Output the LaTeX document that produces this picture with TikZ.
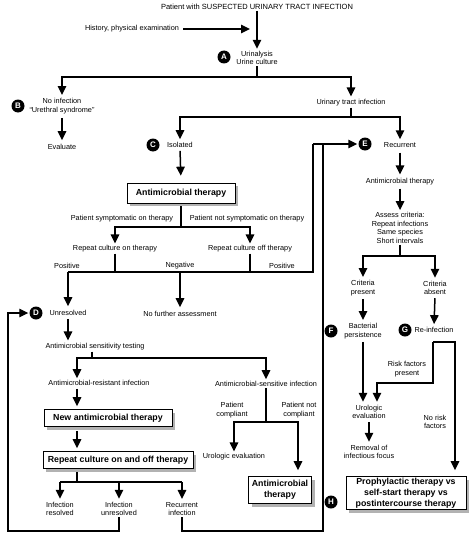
\documentclass[tikz,border=0pt]{standalone}
\usepackage{fontspec}
\setmainfont{Liberation Sans}
\usetikzlibrary{arrows.meta,shadows,calc}
\begin{document}
\begin{tikzpicture}[x=1pt,y=-1pt,
  lbl/.style={font=\fontsize{7.3}{8.7}\selectfont, align=center, inner sep=1pt},
  bx/.style={draw, line width=0.7pt, fill=white, font=\bfseries\fontsize{8.8}{11}\selectfont, align=center, inner sep=1pt,
    drop shadow={shadow xshift=3pt, shadow yshift=-3pt, fill=gray!60, opacity=1}},
  badge/.style={circle, fill=black, text=white, font=\bfseries\fontsize{8}{8}\selectfont, inner sep=0pt, minimum size=13pt},
  arr/.style={-{Triangle[length=9pt,width=8.5pt]}, line width=1.5pt},
  ln/.style={line width=1.2pt},
]
\useasboundingbox (0,0) rectangle (474,535);

% top
\node[lbl, font=\fontsize{7.5}{9}\selectfont] (title) at (257,7) {Patient with SUSPECTED URINARY TRACT INFECTION};
\node[lbl] (hist) at (132,29) {History, physical examination};
\node[lbl] (urin) at (257,58) {Urinalysis\\Urine culture};
\node[badge] (cA) at (224,57) {A};
\coordinate (hx) at (250,29);
\draw[arr, shorten >=1pt] (title.south) -- (urin.north);
\draw[arr, shorten <=3pt] (hist) -- (hx);

\coordinate (j1) at (257,77);
\draw[ln] (urin.south) -- (j1);
\node[lbl] (noinf) at (62,106) {No infection\\``Urethral syndrome''};
\node[badge] (cB) at (18,106) {B};
\node[lbl] (eval) at (62,147) {Evaluate};
\node[lbl] (uti) at (351,103) {Urinary tract infection};
\draw[arr, shorten >=2pt] (j1) -| (noinf.north);
\draw[arr, shorten >=2pt] (j1) -| (uti.north);
\draw[arr, shorten <=3pt, shorten >=3pt] (noinf.south) -- (eval.north);

\coordinate (j2) at (351,117);
\draw[ln] (uti.south) -- (j2);
\node[lbl] (iso) at (180,145) {Isolated};
\node[badge] (cC) at (153,145) {C};
\node[lbl] (rec) at (400,145) {Recurrent};
\node[badge] (cE) at (365,144) {E};
\draw[arr, shorten >=2pt] (j2) -| (iso.north);
\draw[arr, shorten >=2pt] (j2) -| (rec.north);

% left branch C
\node[bx, minimum width=108pt, minimum height=20pt] (abox) at (181,193) {Antimicrobial therapy};
\draw[arr, shorten <=2pt, shorten >=7pt] (iso.south) -- (abox.north);
\coordinate (j3) at (181,227);
\draw[ln, shorten <=3pt] (abox.south) -- (j3);
\node[lbl] (sym) at (122,219) {Patient symptomatic on therapy};
\node[lbl] (nsym) at (247,219) {Patient not symptomatic on therapy};
\node[lbl] (rcon) at (115,249) {Repeat culture on therapy};
\node[lbl] (rcoff) at (250,249) {Repeat culture off therapy};
\draw[arr, shorten >=1pt] (j3) -| (rcon.north);
\draw[arr, shorten >=1pt] (j3) -| (rcoff.north);

\coordinate (rL) at (68,272);
\coordinate (rR) at (313,272);
\coordinate (jE) at (313,144);
\draw[ln] (rcon.south) -- (rcon.south |- rL);
\draw[ln] (rcoff.south) -- (rcoff.south |- rL);
\draw[ln] (rL) -- (rR) -- (jE);
\draw[arr, shorten >=1pt] (jE) -- (cE.west);
\node[lbl] (pos1) at (67,266) {Positive};
\node[lbl] (neg) at (180,266) {Negative};
\node[lbl] (pos2) at (282,266) {Positive};

\node[lbl] (unres) at (68,313) {Unresolved};
\node[badge] (cD) at (36,313) {D};
\node[lbl] (nfa) at (180,314) {No further assessment};
\draw[arr, shorten >=3pt] (rL) -- (unres.north);
\draw[arr, shorten >=3pt] (rL -| nfa) -- (nfa.north);

% D branch
\node[lbl] (sens) at (95,347) {Antimicrobial sensitivity testing};
\draw[arr, shorten <=2pt, shorten >=2pt] (unres.south) -- (unres.south |- sens.north);
\coordinate (j4) at (92,358);
\draw[ln] (sens.south -| j4) -- (j4);
\node[lbl] (resist) at (99,383) {Antimicrobial-resistant infection};
\node[lbl] (sensi) at (266,384) {Antimicrobial-sensitive infection};
\coordinate (c77) at (77,0);
\draw[arr, shorten >=1pt] (j4) -| (resist.north -| c77);
\draw[arr, shorten >=1pt] (j4) -| (sensi.north);

\node[bx, minimum width=128pt, minimum height=17pt] (nbox) at (108,418) {New antimicrobial therapy};
\node[bx, minimum width=150pt, minimum height=17pt] (rbox) at (118,460) {Repeat culture on and off therapy};
\draw[arr, shorten <=2pt, shorten >=3pt] (resist.south -| c77) -- (nbox.north -| c77);
\draw[arr, shorten <=4pt, shorten >=3pt] (nbox.south -| c77) -- (rbox.north -| c77);

\coordinate (j5) at (77,482);
\coordinate (j5L) at (60,482);
\coordinate (j5R) at (182,482);
\draw[ln, shorten <=3pt] (rbox.south -| j5) -- (j5);
\draw[ln] (j5L) -- (j5R);
\node[lbl] (ires) at (60,509) {Infection\\resolved};
\node[lbl] (iunr) at (119,509) {Infection\\unresolved};
\node[lbl] (rinf) at (182,509) {Recurrent\\infection};
\draw[arr, shorten >=2pt] (j5L) -- (ires.north);
\draw[arr, shorten >=2pt] (j5 -| iunr) -- (iunr.north);
\draw[arr, shorten >=2pt] (j5R) -- (rinf.north);

\coordinate (bl) at (8,531);
\coordinate (br) at (323,531);
\draw[ln, -{Triangle[length=9pt,width=8.5pt]}, shorten >=1pt] (iunr.south) |- (bl) |- (cD.west);
\draw[ln] (rinf.south) |- (br) -- (br |- jE);

% sensitive branch
\coordinate (j6) at (266,422);
\coordinate (c298) at (298,0);
\draw[ln] (sensi.south) -- (j6);
\node[lbl] (comp) at (232,410) {Patient\\compliant};
\node[lbl] (ncomp) at (299,410) {Patient not\\compliant};
\node[lbl] (uro1) at (234,457) {Urologic evaluation};
\node[bx, minimum width=63pt, minimum height=27pt] (am2) at (280,490) {Antimicrobial\\therapy};
\draw[arr, shorten >=1pt] (j6) -| (uro1.north);
\draw[arr, shorten >=6pt] (j6) -| (am2.north -| c298);

% E branch
\node[lbl] (am3) at (400,182) {Antimicrobial therapy};
\draw[arr, shorten <=4pt, shorten >=3pt] (rec.south) -- (am3.north);
\node[lbl] (assess) at (400,228) {Assess criteria:\\Repeat infections\\Same species\\Short intervals};
\draw[arr, shorten <=2pt, shorten >=1pt] (am3.south) -- (assess.north);
\coordinate (j7) at (400,256);
\draw[ln] (assess.south) -- (j7);
\node[lbl] (cpres) at (363,288) {Criteria\\present};
\node[lbl] (cabs) at (435,288) {Criteria\\absent};
\draw[arr, shorten >=2pt] (j7) -| (cpres.north);
\draw[arr, shorten >=2pt] (j7) -| (cabs.north);

\node[lbl] (bact) at (363,331) {Bacterial\\persistence};
\node[badge] (cF) at (331,331) {F};
\node[lbl] (reinf) at (434,330) {Re-infection};
\node[badge] (cG) at (405,330) {G};
\draw[arr, shorten <=2pt, shorten >=2pt] (cpres.south) -- (bact.north);
\draw[arr, shorten <=2pt, shorten >=2pt] (cabs.south) -- (reinf.north);

\node[lbl] (uro2) at (369,412) {Urologic\\evaluation};
\node[lbl] (risk) at (407,369) {Risk factors\\present};
\node[lbl] (norisk) at (435,422) {No risk\\factors};
\node[lbl] (remov) at (369,452) {Removal of\\infectious focus};
\node[bx, minimum width=120pt, minimum height=33pt] (hbox) at (406,493) {Prophylactic therapy vs\\self-start therapy vs\\postintercourse therapy};
\node[badge] (cH) at (331,502) {H};

\coordinate (jr) at (433,342);
\coordinate (j8) at (433,383);
\coordinate (c377) at (377,0);
\coordinate (c455) at (455,0);
\draw[arr, shorten <=2pt, shorten >=2pt] (bact.south) -- (bact.south |- uro2.north);
\draw[arr, shorten >=2pt] (jr) -- (j8) -| (uro2.north -| c377);
\draw[arr, shorten >=6pt] (jr) -| (hbox.north -| c455);
\draw[arr, shorten <=2pt, shorten >=2pt] (uro2.south) -- (remov.north);
\end{tikzpicture}
\end{document}
